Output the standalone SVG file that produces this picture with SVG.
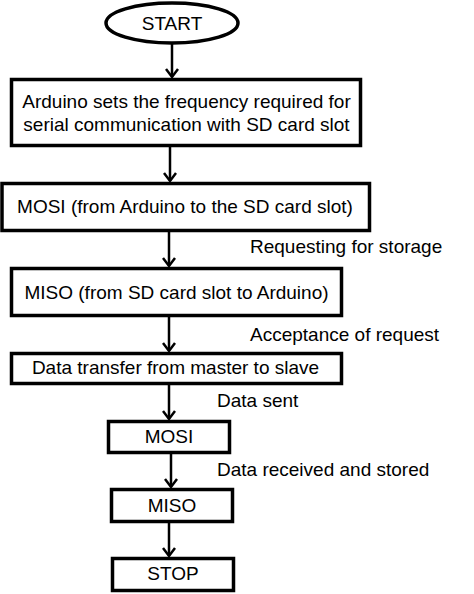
<svg xmlns="http://www.w3.org/2000/svg" width="474" height="594" viewBox="0 0 474 594">
<style>
.box{fill:#fff;stroke:#000;stroke-width:3.5}
.t{font-family:"Liberation Sans",Arial,sans-serif;font-size:19px;fill:#000}
.c{text-anchor:middle}
.e{fill:none;stroke:#000;stroke-width:2.5}
</style>
<defs>
<marker id="ah" markerWidth="14" markerHeight="16" refX="11" refY="7" orient="auto" markerUnits="userSpaceOnUse" viewBox="0 0 14 14">
<path d="M3,1 L11,7 L3,13" fill="none" stroke="#000" stroke-width="2.5"/>
</marker>
</defs>
<rect width="474" height="594" fill="#fff"/>
<g id="connectors">
<line class="e" x1="172" y1="44" x2="172" y2="77" marker-end="url(#ah)"/>
<line class="e" x1="170" y1="147" x2="170" y2="181" marker-end="url(#ah)"/>
<line class="e" x1="169" y1="232" x2="169" y2="266" marker-end="url(#ah)"/>
<line class="e" x1="169" y1="317" x2="169" y2="351" marker-end="url(#ah)"/>
<line class="e" x1="169" y1="385" x2="169" y2="419" marker-end="url(#ah)"/>
<line class="e" x1="171" y1="454" x2="171" y2="487" marker-end="url(#ah)"/>
<line class="e" x1="169" y1="523" x2="169" y2="556" marker-end="url(#ah)"/>
<text class="t" x="250" y="253">Requesting for storage</text>
<text class="t" x="250" y="341">Acceptance of request</text>
<text class="t" x="217" y="407">Data sent</text>
<text class="t" x="217" y="476">Data received and stored</text>
</g>
<g id="start">
<ellipse class="box" cx="172" cy="23" rx="66" ry="20" stroke-width="3"/>
<text class="t c" x="172" y="30">START</text>
</g>
<g id="set-frequency">
<rect class="box" x="11.5" y="79.5" width="349" height="66"/>
<text class="t c" x="186.5" y="108">Arduino sets the frequency required for</text>
<text class="t c" x="186.5" y="131">serial communication with SD card slot</text>
</g>
<g id="mosi-request">
<rect class="box" x="2" y="183.5" width="367.5" height="47"/>
<text class="t c" x="185" y="213">MOSI (from Arduino to the SD card slot)</text>
</g>
<g id="miso-accept">
<rect class="box" x="11.5" y="268.5" width="330" height="47"/>
<text class="t c" x="176.5" y="299">MISO (from SD card slot to Arduino)</text>
</g>
<g id="data-transfer">
<rect class="box" x="11.5" y="353.5" width="330" height="30"/>
<text class="t c" x="175.5" y="374">Data transfer from master to slave</text>
</g>
<g id="mosi">
<rect class="box" x="108.5" y="421.5" width="121" height="31"/>
<text class="t c" x="169" y="443">MOSI</text>
</g>
<g id="miso">
<rect class="box" x="111.5" y="489.5" width="121" height="32"/>
<text class="t c" x="172" y="512">MISO</text>
</g>
<g id="stop">
<rect class="box" x="112.5" y="558.5" width="121" height="32"/>
<text class="t c" x="173" y="580">STOP</text>
</g>
</svg>
